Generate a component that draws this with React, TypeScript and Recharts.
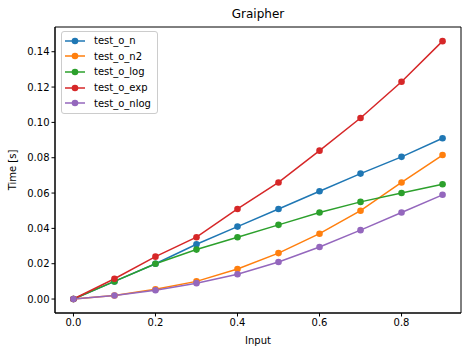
import { LineChart, Line, XAxis, YAxis, ReferenceArea } from "recharts";

const inputs = [0, 0.1, 0.2, 0.3, 0.4, 0.5, 0.6, 0.7, 0.8, 0.9];
const oN = [0, 0.01, 0.02, 0.031, 0.041, 0.051, 0.061, 0.071, 0.0805, 0.091];
const oN2 = [0, 0.002, 0.0055, 0.01, 0.017, 0.026, 0.037, 0.05, 0.066, 0.0815];
const oLog = [0, 0.01, 0.02, 0.028, 0.035, 0.042, 0.049, 0.055, 0.06, 0.065];
const oExp = [0, 0.0115, 0.024, 0.035, 0.051, 0.066, 0.084, 0.1025, 0.123, 0.146];
const oNlog = [0, 0.002, 0.005, 0.009, 0.014, 0.021, 0.0295, 0.039, 0.049, 0.059];

const xTicks = [0, 0.2, 0.4, 0.6, 0.8];
const yTicks = [0, 0.02, 0.04, 0.06, 0.08, 0.1, 0.12, 0.14];
const xDomain = [-0.045, 0.945];
const yDomain = [-0.0079, 0.154];

const series = [
  { key: "test_o_n", color: "#1f77b4", values: oN },
  { key: "test_o_n2", color: "#ff7f0e", values: oN2 },
  { key: "test_o_log", color: "#2ca02c", values: oLog },
  { key: "test_o_exp", color: "#d62728", values: oExp },
  { key: "test_o_nlog", color: "#9467bd", values: oNlog },
];

const data = inputs.map((x, i) => {
  const row: any = { x };
  series.forEach((s) => (row[s.key] = s.values[i]));
  return row;
});

const font = "'DejaVu Sans', sans-serif";
const tick = { fill: "#000", fontSize: 10, fontFamily: font };

function LegendBox() {
  return (
    <div
      style={{
        position: "absolute",
        left: 61,
        top: 31,
        border: "1px solid #ccc",
        borderRadius: 3,
        background: "rgba(255,255,255,0.8)",
        padding: "1px 6px 2px 3px",
        fontFamily: font,
        fontSize: 10,
        color: "#000",
      }}
    >
      {series.map((s) => (
        <div key={s.key} style={{ display: "flex", alignItems: "center", height: 15.6 }}>
          <svg width={20} height={10} style={{ marginRight: 9 }}>
            <line x1={0} y1={5} x2={20} y2={5} stroke={s.color} strokeWidth={1.5} />
            <circle cx={10} cy={5} r={3.3} fill={s.color} />
          </svg>
          <span>{s.key}</span>
        </div>
      ))}
    </div>
  );
}

export default function App() {
  return (
    <div style={{ position: "fixed", left: 0, top: 0, width: 474, height: 355, background: "#fff" }}>
      <div
        style={{
          position: "absolute",
          top: 7,
          left: 55,
          width: 406,
          textAlign: "center",
          fontFamily: font,
          fontSize: 12,
        }}
      >
        Graipher
      </div>
      <LineChart
        width={474}
        height={355}
        data={data}
        margin={{ top: 27, right: 13, bottom: 0, left: 0 }}
      >
        <XAxis
          dataKey="x"
          type="number"
          domain={xDomain}
          ticks={xTicks}
          tickFormatter={(v: number) => v.toFixed(1)}
          tick={tick}
          tickSize={3.5}
          tickLine={{ stroke: "#000" }}
          axisLine={{ stroke: "#000" }}
          height={42}
          allowDataOverflow
          label={{ value: "Input", position: "insideBottom", offset: 11, fill: "#000", fontSize: 10, fontFamily: font }}
        />
        <YAxis
          type="number"
          domain={yDomain}
          ticks={yTicks}
          tickFormatter={(v: number) => v.toFixed(2)}
          tick={tick}
          tickSize={3.5}
          tickLine={{ stroke: "#000" }}
          axisLine={{ stroke: "#000" }}
          width={55}
          allowDataOverflow
          label={{ value: "Time [s]", angle: -90, position: "insideLeft", offset: 12, fill: "#000", fontSize: 10, fontFamily: font, style: { textAnchor: "middle" } }}
        />
        <ReferenceArea
          x1={xDomain[0]}
          x2={xDomain[1]}
          y1={yDomain[0]}
          y2={yDomain[1]}
          fill="none"
          stroke="#000"
          strokeWidth={1}
          ifOverflow="visible"
        />
        {series.map((s) => (
          <Line
            key={s.key}
            dataKey={s.key}
            stroke={s.color}
            strokeWidth={1.5}
            dot={{ r: 3.3, fill: s.color, stroke: s.color, strokeWidth: 0 }}
            activeDot={false}
            isAnimationActive={false}
          />
        ))}
      </LineChart>
      <LegendBox />
    </div>
  );
}
